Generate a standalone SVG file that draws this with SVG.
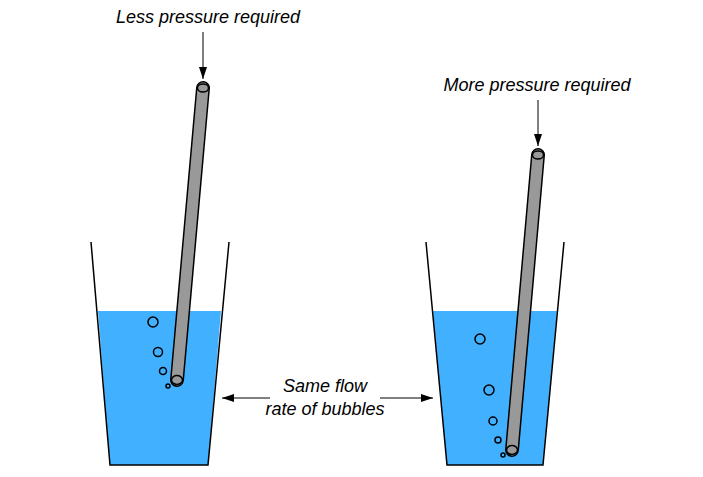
<svg xmlns="http://www.w3.org/2000/svg" width="703" height="477" viewBox="0 0 703 477">
<defs>
<marker id="ah" markerWidth="12" markerHeight="8" refX="12" refY="4" orient="auto" markerUnits="userSpaceOnUse"><path d="M0,0 L12,4 L0,8 Z" fill="#000"/></marker>
</defs>
<style>
text{font-family:"Liberation Sans",Arial,sans-serif;font-size:18px;font-style:italic;fill:#000;text-anchor:middle}
.water{fill:#41b0ff}
.wall{stroke:#000;stroke-width:1.5;fill:none}
.tb{stroke:#000;stroke-width:14;stroke-linecap:round}
.tg{stroke:#999;stroke-width:11;stroke-linecap:round}
.cap{fill:#999;stroke:#000;stroke-width:1.5}
.bub{fill:none;stroke:#000;stroke-width:1.5}
.arr{stroke:#000;stroke-width:1;marker-end:url(#ah)}
</style>
<g id="beaker-left">
<polygon class="water" points="98,311 221,311 208,465 110,465"/>
<polyline class="wall" points="91,242 110,465 208,465 229,242"/>
</g>
<g id="beaker-right">
<polygon class="water" points="433,311 557,311 543,465 447,465"/>
<polyline class="wall" points="426,242 447,465 543,465 564,242"/>
</g>
<g id="bubbles-left">
<circle class="bub" cx="153" cy="322" r="5"/><circle class="bub" cx="158" cy="352" r="4.5"/><circle class="bub" cx="163" cy="371" r="3.5"/><circle class="bub" cx="168" cy="386" r="2"/>
</g>
<g id="bubbles-right">
<circle class="bub" cx="480" cy="339" r="5"/><circle class="bub" cx="489" cy="390" r="5"/><circle class="bub" cx="493" cy="421" r="4"/><circle class="bub" cx="498" cy="440" r="3"/><circle class="bub" cx="503" cy="455" r="2"/>
</g>
<g id="tube-left">
<line class="tb" x1="203" y1="88" x2="177" y2="380"/>
<line class="tg" x1="203" y1="88" x2="177" y2="380"/>
<ellipse class="cap" cx="203" cy="88" rx="5.5" ry="4"/>
<ellipse class="cap" cx="177" cy="380" rx="5.5" ry="4.5"/>
</g>
<g id="tube-right">
<line class="tb" x1="538" y1="155" x2="512" y2="450"/>
<line class="tg" x1="538" y1="155" x2="512" y2="450"/>
<ellipse class="cap" cx="538" cy="155" rx="5.5" ry="4"/>
<ellipse class="cap" cx="512" cy="450" rx="5.5" ry="4.5"/>
</g>
<g id="labels">
<text x="208" y="23">Less pressure required</text>
<text x="537" y="91">More pressure required</text>
<text x="325" y="392">Same flow</text>
<text x="325" y="415">rate of bubbles</text>
</g>
<g id="connectors">
<line class="arr" x1="203" y1="32" x2="203" y2="79"/>
<line class="arr" x1="538" y1="100" x2="538" y2="146"/>
<line class="arr" x1="270" y1="398" x2="222" y2="398"/>
<line class="arr" x1="380" y1="398" x2="433" y2="398"/>
</g>
</svg>
